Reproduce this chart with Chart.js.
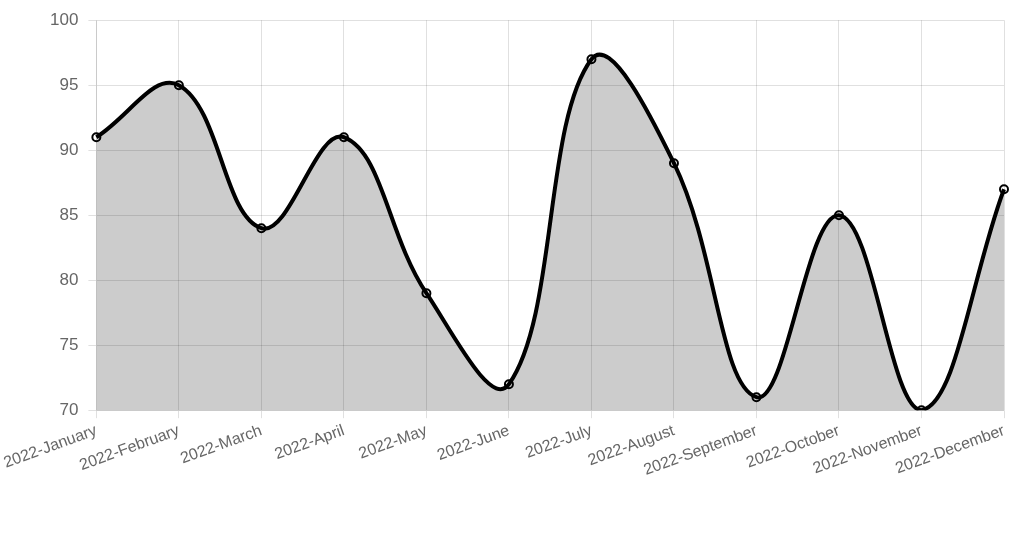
<!DOCTYPE html>
<html>
<head>
<meta charset="utf-8">
<script src="https://cdn.jsdelivr.net/npm/chart.js@4"></script>
<style>
  html, body { margin: 0; padding: 0; background: #fff; }
  #wrap { width: 1024px; height: 550px; }
</style>
</head>
<body>
<div id="wrap"><canvas id="chart"></canvas></div>
<script>
// Data
const months = ['2022-January', '2022-February', '2022-March', '2022-April', '2022-May', '2022-June',
  '2022-July', '2022-August', '2022-September', '2022-October', '2022-November', '2022-December'];
const values = [91, 95, 84, 91, 79, 72, 97, 89, 71, 85, 70, 87];
const yMin = 70;
const yMax = 100;
const yStep = 5;

const ctx = document.getElementById('chart').getContext('2d');
new Chart(ctx, {
  type: 'line',
  data: {
    labels: months,
    datasets: [{
      data: values,
      borderColor: '#000',
      backgroundColor: 'rgba(0,0,0,0.2)',
      fill: true,
      borderWidth: 4,
      tension: 0.4,
      pointRadius: 4,
      pointBorderWidth: 2,
      pointBorderColor: '#000',
      pointBackgroundColor: 'rgba(0,0,0,0)'
    }]
  },
  options: {
    responsive: true,
    maintainAspectRatio: false,
    animation: false,
    layout: { padding: { top: 7, right: 20, left: 40, bottom: 67 } },
    plugins: { legend: { display: false }, tooltip: { enabled: false } },
    scales: {
      x: {
        ticks: {
          color: '#666', maxRotation: 20, minRotation: 20, autoSkip: false,
          font: { family: 'Liberation Sans, Arial, sans-serif', size: 16 }
        },
        grid: { color: 'rgba(0,0,0,0.12)' }
      },
      y: {
        min: yMin, max: yMax,
        ticks: {
          stepSize: yStep, color: '#666', padding: 10,
          font: { family: 'Liberation Sans, Arial, sans-serif', size: 17 }
        },
        grid: { color: 'rgba(0,0,0,0.12)' }
      }
    }
  }
});
</script>
</body>
</html>
